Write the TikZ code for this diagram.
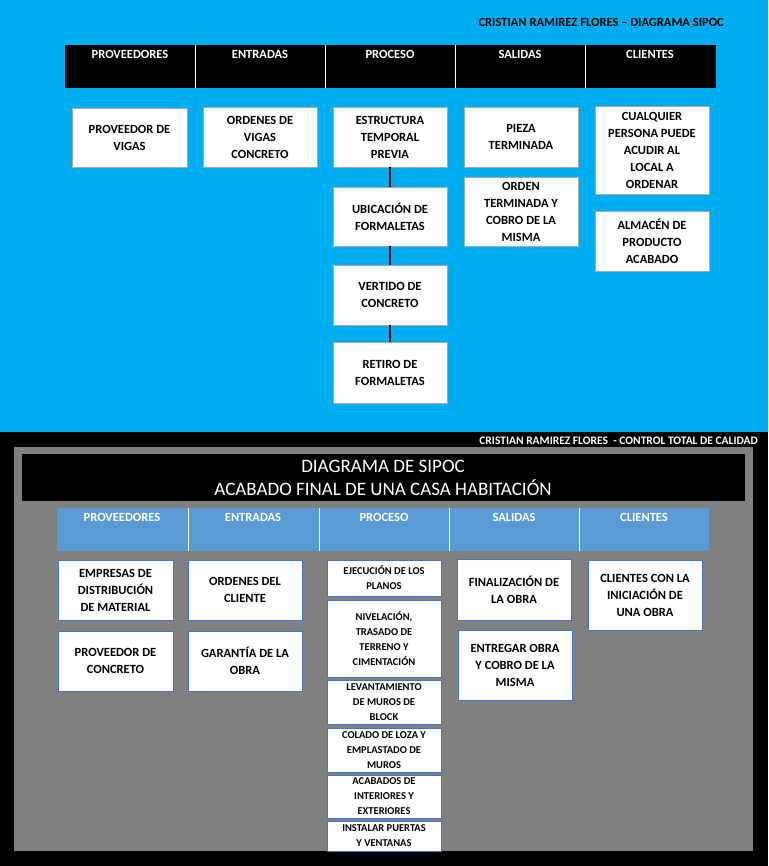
\documentclass[tikz,border=0pt]{standalone}
\usepackage{fontspec}
\setmainfont{Carlito}
\definecolor{cyanbg}{HTML}{00AEEF}
\definecolor{graybg}{HTML}{808080}
\definecolor{hdrblue}{HTML}{5B9BD5}
\definecolor{bord}{HTML}{4472C4}
\begin{document}
\begin{tikzpicture}[x=1pt,y=-1pt,
  t/.style={font=\bfseries\fontsize{12.5}{17}\selectfont,align=center,inner sep=0pt},
  wb/.style={draw=gray!70,fill=white,line width=0.5pt},
  bb/.style={draw=bord,fill=white,line width=0.7pt},
  ht/.style={text=white,font=\bfseries\fontsize{12.5}{14}\selectfont}]
\useasboundingbox (0,0) rectangle (768,866);
\fill[cyanbg] (0,0) rectangle (768,432);
\fill[black] (0,432) rectangle (768,866);
\fill[graybg] (14,447) rectangle (753,851);
\node[t,anchor=east] (tt) at (724,22) {CRISTIAN RAMIREZ FLORES – DIAGRAMA SIPOC};
\node[t,anchor=east,text=white,font=\bfseries\fontsize{11.5}{13}\selectfont] (bt) at (758,441) {CRISTIAN RAMIREZ FLORES \ - CONTROL TOTAL DE CALIDAD};
% top header
\fill[black] (65,45) rectangle (716,88);
\foreach \x in {195,325,455,585} \draw[white,line width=0.8pt] (\x,45) -- (\x,88);
\foreach \x/\s [count=\i] in {130/PROVEEDORES,260/ENTRADAS,390/PROCESO,520/SALIDAS,650/CLIENTES}
  \node[ht] (th\i) at (\x,54) {\s};
\newcommand{\bx}[6]{\draw[#1] (#2,#3) rectangle (#4,#5); \node[t] at ({(#2+#4)/2},{(#3+#5)/2}) {#6};}
\bx{wb}{72}{108}{187}{167}{PROVEEDOR DE\\VIGAS}
\bx{wb}{203}{107}{317}{167}{ORDENES DE\\VIGAS\\CONCRETO}
\bx{wb}{333}{107}{447}{167}{ESTRUCTURA\\TEMPORAL\\PREVIA}
\bx{wb}{333}{187}{447}{246}{UBICACIÓN DE\\FORMALETAS}
\bx{wb}{333}{265}{447}{325}{VERTIDO DE\\CONCRETO}
\bx{wb}{333}{342}{447}{403}{RETIRO DE\\FORMALETAS}
\bx{wb}{464}{107}{578}{167}{PIEZA\\TERMINADA}
\bx{wb}{464}{177}{578}{246}{ORDEN\\TERMINADA Y\\COBRO DE LA\\MISMA}
\bx{wb}{595}{106}{709}{194}{CUALQUIER\\PERSONA PUEDE\\ACUDIR AL\\LOCAL A\\ORDENAR}
\bx{wb}{595}{211}{709}{271}{ALMACÉN DE\\PRODUCTO\\ACABADO}
\draw[black,line width=1.2pt] (390,167)--(390,187) (390,246)--(390,265) (390,325)--(390,342);
% bottom
\fill[black] (22,454) rectangle (745,501);
\node[text=white,align=center,font=\fontsize{19}{23}\selectfont] (ti) at (383,478) {DIAGRAMA DE SIPOC\\ACABADO FINAL DE UNA CASA HABITACIÓN};
\fill[hdrblue] (57,508) rectangle (709,551);
\foreach \x in {188,319,449,579} \draw[white,line width=0.8pt] (\x,508) -- (\x,551);
\foreach \x/\s [count=\i] in {122/PROVEEDORES,253/ENTRADAS,384/PROCESO,514/SALIDAS,644/CLIENTES}
  \node[ht] (bh\i) at (\x,517) {\s};
\bx{bb}{58}{560}{173}{620}{EMPRESAS DE\\DISTRIBUCIÓN\\DE MATERIAL}
\bx{bb}{58}{631}{173}{691}{PROVEEDOR DE\\CONCRETO}
\bx{bb}{188}{560}{302}{620}{ORDENES DEL\\CLIENTE}
\bx{bb}{188}{631}{302}{691}{GARANTÍA DE LA\\OBRA}
\begingroup
\tikzset{t/.append style={font=\bfseries\fontsize{10.5}{15}\selectfont}}
\bx{bb}{327}{560}{441}{596}{EJECUCIÓN DE LOS\\PLANOS}
\bx{bb}{327}{600}{441}{677}{NIVELACIÓN,\\TRASADO DE\\TERRENO Y\\CIMENTACIÓN}
\bx{bb}{327}{680}{441}{724}{LEVANTAMIENTO\\DE MUROS DE\\BLOCK}
\bx{bb}{327}{728}{441}{772}{COLADO DE LOZA Y\\EMPLASTADO DE\\MUROS}
\bx{bb}{327}{775}{441}{818}{ACABADOS DE\\INTERIORES Y\\EXTERIORES}
\bx{bb}{327}{821}{441}{851}{INSTALAR PUERTAS\\Y VENTANAS}
\endgroup
\bx{bb}{457}{559}{571}{620}{FINALIZACIÓN DE\\LA OBRA}
\bx{bb}{458}{630}{572}{700}{ENTREGAR OBRA\\Y COBRO DE LA\\MISMA}
\bx{bb}{588}{560}{702}{630}{CLIENTES CON LA\\INICIACIÓN DE\\UNA OBRA}
\end{tikzpicture}
\end{document}
